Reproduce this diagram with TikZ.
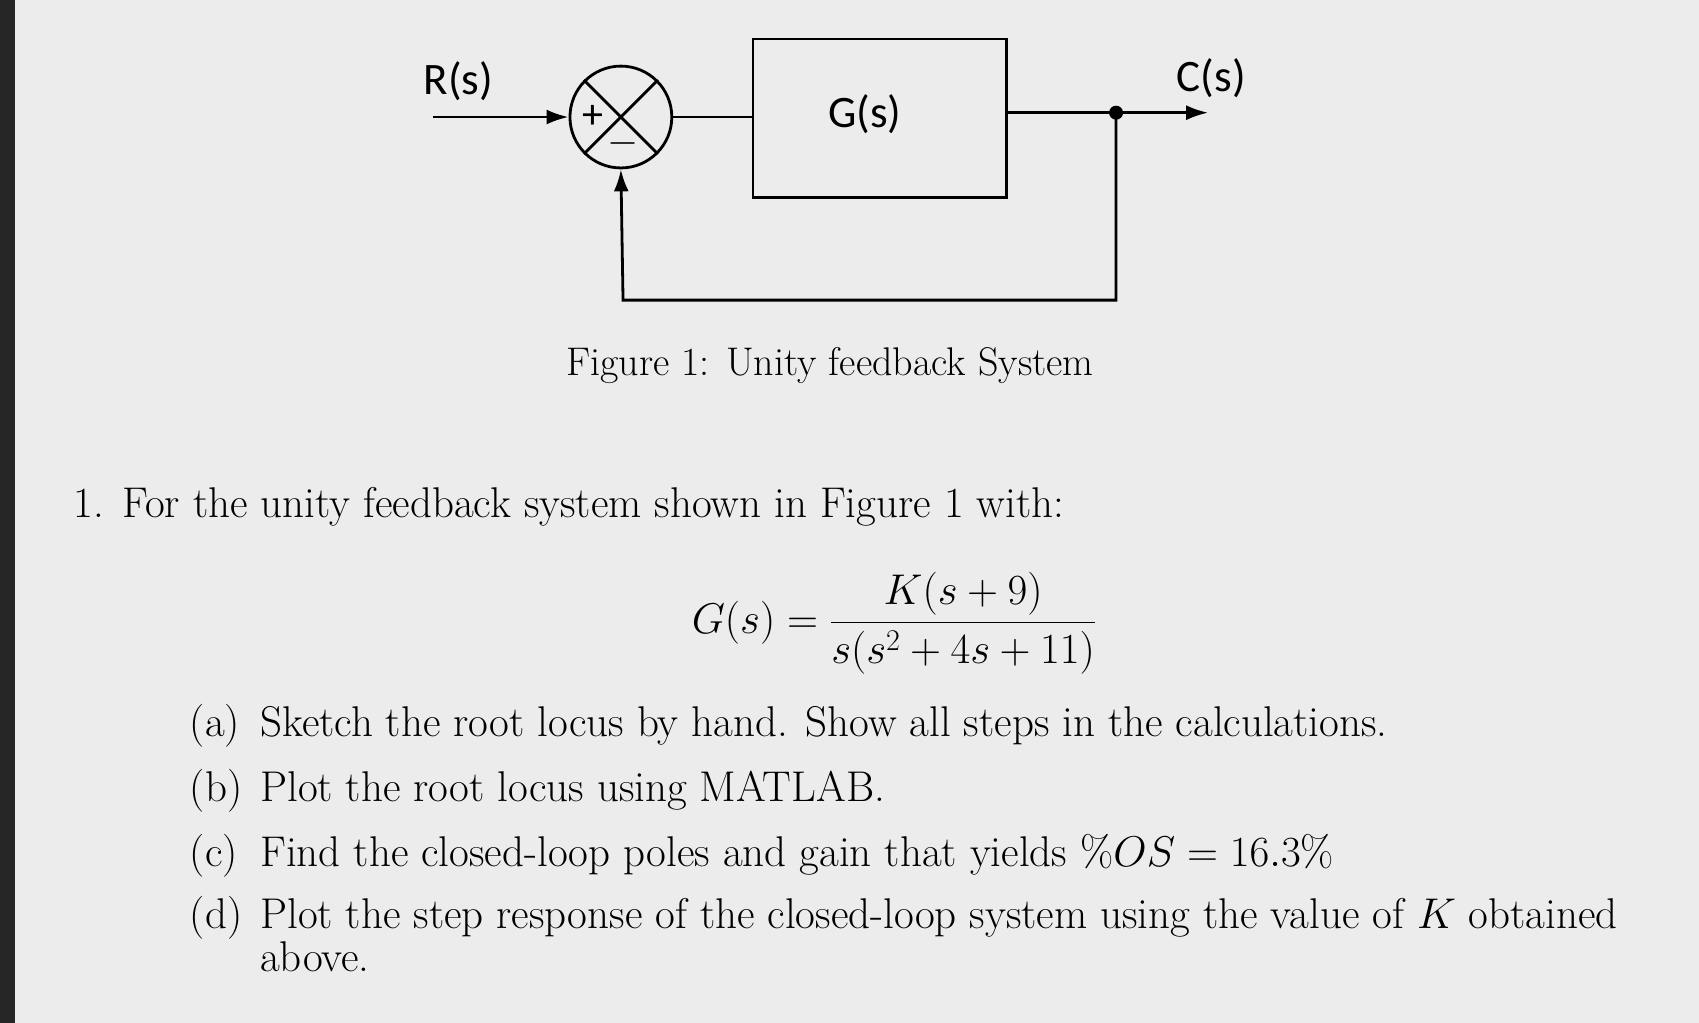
\RequirePackage{fix-cm}
\documentclass[tikz,border=0pt]{standalone}
\usepackage{amsmath}
\usepackage{fontspec}
\newfontfamily\carlitofont{Carlito}
\usetikzlibrary{arrows.meta}
\begin{document}
\begin{tikzpicture}[x=1.0835pt,y=-1.0835pt,
  lbl/.style={font=\carlitofont\fontsize{45}{50}\selectfont},
  txt/.style={font=\fontsize{43}{50}\selectfont,anchor=base west,inner sep=0},
  ln/.style={line width=2.8pt},
  arr/.style={ln,-{Latex[length=22pt,width=15pt]}}]
\useasboundingbox (0,0) rectangle (1568,944);
\fill[gray!15] (0,0) rectangle (1568,944);
\fill[black!85] (0,0) rectangle (14,944);
\node[circle,draw,line width=2.8pt,minimum size=94pt*1.0835] (S) at (573,108) {};
\draw[ln] (S.north west) -- (S.south east) (S.north east) -- (S.south west);
\node[font=\carlitofont\fontsize{42}{42}\selectfont] at (547,108) {+};
\node[font=\fontsize{40}{40}\selectfont] at (575,132) {$-$};
\node[draw,ln,minimum width=234pt*1.0835,minimum height=146pt*1.0835] (G) at (812,109) {};
\node[lbl] at (798,105) {G(s)};
\node[lbl] (R) at (423,75) {R(s)};
\node[lbl] (C) at (1118,72) {C(s)};
\coordinate (in) at (400,108);
\coordinate (d) at (1030,104);
\coordinate (out) at (1115,104);
\coordinate (b1) at (1030,277);
\coordinate (b2) at (575,277);
\draw[arr] (in) -- (S.west);
\draw[ln] (S.east) -- (S.east -| G.west);
\draw[arr] (G.east |- d) -- (out);
\fill (d) circle (7pt);
\draw[arr] (d) -- (b1) -- (b2) -- (S.south);
\node[font=\fontsize{40}{46}\selectfont] at (766,337) {Figure 1: Unity feedback System};
\node[txt] at (68,478) {1.};
\node[txt] at (113,478) {For the unity feedback system shown in Figure 1 with:};
\node[font=\fontsize{43}{50}\selectfont] at (825,575) {$G(s)=\dfrac{K(s+9)}{s(s^2+4s+11)}$};
\node[txt] at (175,680) {(a)};
\node[txt] at (240,680) {Sketch the root locus by hand. Show all steps in the calculations.};
\node[txt] at (175,740) {(b)};
\node[txt] at (240,740) {Plot the root locus using MATLAB.};
\node[txt] at (175,800) {(c)};
\node[txt] at (240,800) {Find the closed-loop poles and gain that yields $\%OS=16.3\%$};
\node[txt] at (175,857) {(d)};
\node[txt] at (240,857) {Plot the step response of the closed-loop system using the value of $K$ obtained};
\node[txt] at (240,897) {above.};
\end{tikzpicture}
\end{document}
